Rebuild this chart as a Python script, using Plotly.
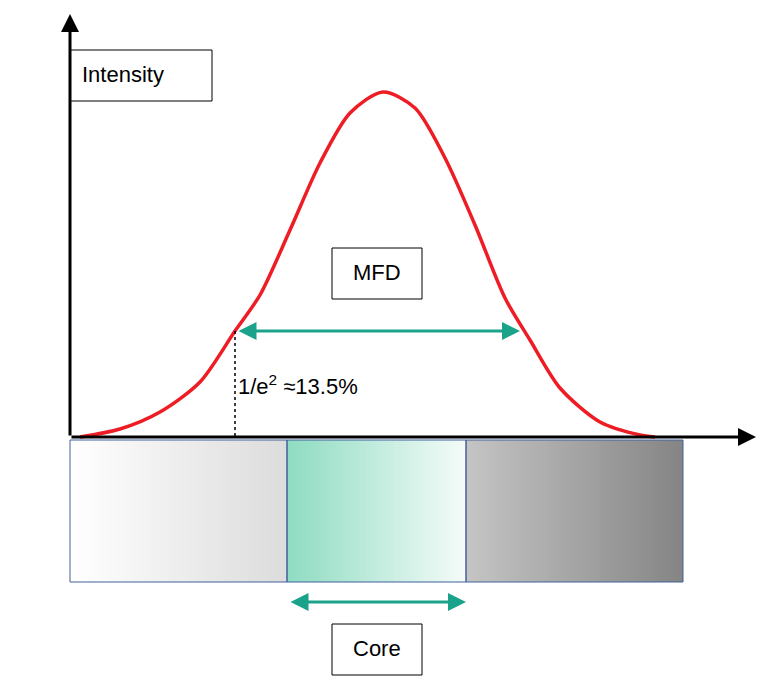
import plotly.graph_objects as go

# curve (pixel coordinates, y downward)
curve_x = [80, 120, 160, 200, 235, 260, 290, 320, 350, 383, 415, 445, 475, 505, 530, 560, 600, 640, 655]
curve_y = [437, 429, 412, 382, 331, 295, 230, 163, 113, 92, 108, 158, 225, 298, 340, 388, 422, 435, 437]

# gradient boxes: x edges, colour at left / right
box_edges = [(70, 287), (287, 466), (466, 683)]
box_colors = [("#ffffff", "#dcdcdc"), ("#8fdcc3", "#f4fbf9"), ("#c4c4c4", "#858585")]
box_top, box_bottom = 440, 582

teal = "#1aa38a"
fig = go.Figure()

n_steps = 60
for (x0, x1), (c0, c1) in zip(box_edges, box_colors):
    xs = [x0 + (x1 - x0) * i / n_steps for i in range(n_steps + 1)]
    fig.add_trace(go.Heatmap(
        x=xs, y=[box_top, box_bottom], z=[list(range(n_steps))],
        colorscale=[[0, c0], [1, c1]], showscale=False, hoverinfo="skip"))
    fig.add_shape(type="rect", x0=x0, x1=x1, y0=box_top, y1=box_bottom,
                  line=dict(color="#41619a", width=1))

fig.add_trace(go.Scatter(x=curve_x, y=curve_y, mode="lines",
                         line=dict(color="#ee1c24", width=3.5, shape="spline", smoothing=0.8),
                         hoverinfo="skip"))

# dotted drop line
fig.add_shape(type="line", x0=235, x1=235, y0=331, y1=437, line=dict(color="black", width=1.5, dash="dot"))

def arrow(x0, y0, x1, y1, color, width, both=False):
    fig.add_annotation(x=x1, y=y1, ax=x0, ay=y0, xref="x", yref="y", axref="x", ayref="y",
                       showarrow=True, arrowhead=2, arrowsize=1.2, arrowwidth=width, arrowcolor=color,
                       text="", arrowside="end+start" if both else "end")

arrow(70, 437, 70, 14, "black", 3)
arrow(70, 437, 756, 437, "black", 3)
arrow(237, 331, 520, 331, teal, 3, both=True)
arrow(289, 602, 466, 602, teal, 3, both=True)

font = dict(family="Liberation Sans, Arial", size=22, color="black")
fig.add_shape(type="rect", x0=70, x1=212, y0=50, y1=101, line=dict(color="black", width=1), fillcolor="white")
fig.add_annotation(x=80, y=74, text="Intensity", showarrow=False, xanchor="left", font=font)
fig.add_shape(type="rect", x0=332, x1=422, y0=248, y1=299, line=dict(color="black", width=1), fillcolor="white")
fig.add_annotation(x=377, y=272, text="MFD", showarrow=False, font=font)
fig.add_shape(type="rect", x0=332, x1=422, y0=624, y1=675, line=dict(color="black", width=1), fillcolor="white")
fig.add_annotation(x=377, y=648, text="Core", showarrow=False, font=font)
fig.add_annotation(x=236, y=385, text="1/e<sup>2</sup> ≈13.5%", showarrow=False, xanchor="left", font=font)

# page has an 8px body margin, shift ranges so coordinates match the picture
fig.update_xaxes(range=[8, 776], visible=False)
fig.update_yaxes(range=[688, 8], visible=False)
fig.update_layout(width=768, height=680, margin=dict(l=0, r=0, t=0, b=0),
                  plot_bgcolor="white", paper_bgcolor="white", showlegend=False)
fig.write_html("out.html")
